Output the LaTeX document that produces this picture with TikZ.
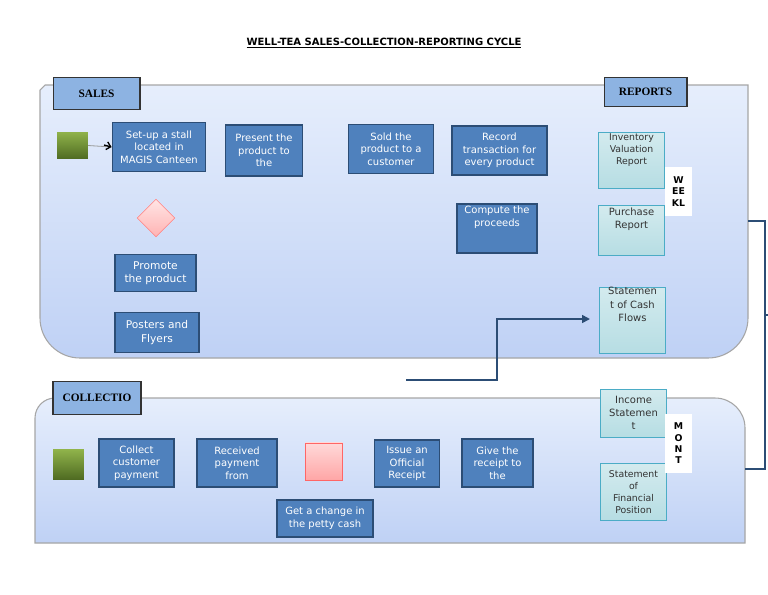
\documentclass[tikz,border=0pt]{standalone}
\usepackage{fontspec}
\setmainfont{DejaVu Sans}
\newfontfamily\lab{Liberation Serif}
\usetikzlibrary{arrows.meta}
\definecolor{bbox}{HTML}{4F81BD}
\definecolor{bdark}{HTML}{2C4D75}
\definecolor{tealf}{HTML}{B6DDE3}
\definecolor{tealb}{HTML}{4BACC6}
\definecolor{panT}{HTML}{E6EEFC}
\definecolor{panB}{HTML}{BFD1F5}
\definecolor{labf}{HTML}{8DB3E2}
\definecolor{gT}{HTML}{8FB24A}
\definecolor{gB}{HTML}{4F6B22}
\begin{document}
\begin{tikzpicture}[x=0.75pt,y=-0.75pt,
 blue/.style={draw=bdark,line width=1.2pt,fill=bbox,text=white,font=\fontsize{7.5}{9.5}\selectfont,align=center,inner sep=0pt},
 teal/.style={draw=tealb,line width=0.7pt,top color=tealf!60,bottom color=tealf,text=black!80,font=\fontsize{7}{9}\selectfont,align=center,inner sep=0pt},
 lbl/.style={draw=black!80,line width=1pt,fill=labf,font=\lab\bfseries\fontsize{8.5}{10}\selectfont,inner sep=0pt},
 wbox/.style={fill=white,font=\bfseries\fontsize{7}{8.5}\selectfont,align=center,inner sep=0pt},
 green/.style={top color=gT,bottom color=gB,inner sep=0pt},
 conn/.style={draw=bdark,line width=1.2pt}]
\useasboundingbox (0,0) rectangle (768,594);
\fill[white] (0,0) rectangle (768,594);
\node[font=\bfseries\fontsize{7.5}{9}\selectfont] (title) at (384,43) {\underline{WELL-TEA SALES-COLLECTION-REPORTING CYCLE}};
% panels
\path[draw=black!35,line width=0.8pt,top color=panT,bottom color=panB]
 (40,90) -- (40,318) arc[start angle=180,end angle=90,radius=40] -- (708,358) arc[start angle=90,end angle=0,radius=40] -- (748,85) -- (45,85) -- cycle;
\path[draw=black!35,line width=0.8pt,top color=panT,bottom color=panB]
 (35,543) -- (35,418) arc[start angle=180,end angle=270,radius=20] -- (715,398) arc[start angle=270,end angle=360,radius=30] -- (745,543) -- cycle;
\node[lbl,minimum width=65pt,minimum height=24pt] (sales) at (96.5,93.5) {SALES};
\node[lbl,minimum width=62pt,minimum height=22pt] (reports) at (645.5,92) {REPORTS};
\node[lbl,minimum width=66pt,minimum height=25pt] (coll) at (97,398) {COLLECTIO};
% sales
\node[green,minimum width=23pt,minimum height=20pt] (g1) at (72.5,145.5) {};
\node[blue,minimum width=70pt,minimum height=37pt] (setup) at (159,147) {Set-up a stall\\located in\\MAGIS Canteen};
\node[blue,minimum width=58pt,minimum height=38pt] (present) at (264,150.5) {Present the\\product to\\the};
\node[blue,minimum width=64pt,minimum height=37pt] (sold) at (391,149) {Sold the\\product to a\\customer};
\node[blue,minimum width=71pt,minimum height=37pt] (record) at (499.5,150.5) {Record\\transaction for\\every product};
\node[blue,minimum width=60pt,minimum height=37pt,anchor=north] (compute) at (497,203) {\\[-3pt]Compute the\\proceeds\\[10pt]};
\node[blue,minimum width=61pt,minimum height=28pt,font=\fontsize{8}{10}\selectfont] (promote) at (155.5,273) {Promote\\the product};
\node[blue,minimum width=63pt,minimum height=30pt,font=\fontsize{8}{10}\selectfont] (posters) at (157,332.5) {Posters and\\Flyers};
\node[draw=red!50,top color=red!10,bottom color=red!30,rotate=45,minimum width=20pt,minimum height=20pt,inner sep=0pt] (dia) at (156,218) {};
\draw[black!40,line width=0.6pt] (g1.east) -- (setup.west);
\draw[-{Straight Barb[length=3pt]},line width=1pt] (104,145) -- (setup.west);
% reports
\node[teal,minimum width=49pt,minimum height=42pt] (inv) at (631.5,160) {Inventory\\Valuation\\Report\\[8pt]};
\node[teal,minimum width=49pt,minimum height=37pt,font=\fontsize{7.5}{10}\selectfont] (pur) at (631.5,230.5) {Purchase\\Report\\[8pt]};
\node[teal,minimum width=50pt,minimum height=50pt,font=\fontsize{7.5}{10}\selectfont] (scf) at (632.5,320.5) {Statemen\\t of Cash\\Flows\\[14pt]};
\node[teal,minimum width=50pt,minimum height=36pt,font=\fontsize{7.5}{9.5}\selectfont] (inc) at (633.5,413) {Income\\Statemen\\t};
\node[teal,minimum width=50pt,minimum height=43pt] (sfp) at (633.5,492) {Statement\\of\\Financial\\Position};
\node[wbox,minimum width=20pt,minimum height=37pt] (wk) at (678.5,191.5) {W\\EE\\KL};
\node[wbox,minimum width=20pt,minimum height=44pt] (mo) at (678.5,443.5) {M\\O\\N\\T};
% collection
\node[green,minimum width=23pt,minimum height=22pt] (g2) at (68.5,464.5) {};
\node[blue,minimum width=56pt,minimum height=36pt] (collect) at (136.5,463) {Collect\\customer\\payment};
\node[blue,minimum width=60pt,minimum height=36pt] (recv) at (237,463) {Received\\payment\\from};
\node[draw=red!60,top color=red!15,bottom color=red!35,minimum width=28pt,minimum height=28pt,inner sep=0pt] (pink) at (324,461.5) {};
\node[blue,minimum width=49pt,minimum height=35pt] (issue) at (407,463.5) {Issue an\\Official\\Receipt};
\node[blue,minimum width=53pt,minimum height=36pt] (give) at (497.5,463) {Give the\\receipt to\\the};
\node[blue,minimum width=72pt,minimum height=28pt] (change) at (325,518.5) {Get a change in\\the petty cash};
% connectors
\coordinate (cs) at (406,380);
\draw[conn,-{Triangle[length=6pt,width=6pt]}] (cs) -- (497,380) -- (497,319) -- (590,319);
\coordinate (b1) at (748,221);
\coordinate (b2) at (745,469);
\draw[conn] (b1) -- (765,221) -- (765,469) -- (b2);
\draw[conn] (765,315) -- (768,315);
\end{tikzpicture}
\end{document}
